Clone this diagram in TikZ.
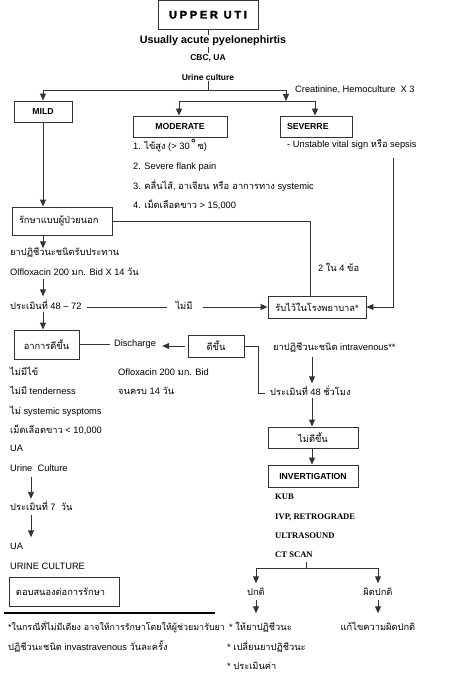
\documentclass[tikz,border=0pt]{standalone}
\usepackage{fontspec}
\setmainfont{Liberation Sans}
\newfontfamily\thf[Script=Thai]{Loma}
\newfontfamily\serifb{Liberation Serif}
\newcommand\tha[1]{{\thf #1}}
\usetikzlibrary{arrows.meta,calc}
\definecolor{lc}{HTML}{333333}
\begin{document}
\begin{tikzpicture}[x=1pt,y=-1pt,
 box/.style={draw=lc,line width=0.9pt,inner sep=0pt,font=\fontsize{9.3}{11}\selectfont},
 hd/.style={font=\fontsize{8.7}{10}\bfseries\selectfont},
 lbl/.style={anchor=west,inner sep=0pt,text height=7pt,text depth=2pt,font=\fontsize{9.3}{11}\selectfont},
 ctr/.style={inner sep=0pt,text height=7pt,text depth=2pt,font=\fontsize{9.3}{11}\selectfont},
 ser/.style={lbl,font=\fontsize{8.6}{10}\serifb\bfseries\selectfont},
 ln/.style={draw=lc,line width=0.9pt},
 arr/.style={ln,-{Triangle[length=7pt,width=6pt]}},
]
\useasboundingbox (0,0) rectangle (474,682);

% top
\node[box,minimum width=100pt,minimum height=28.5pt] (upper) at (208,14.75)
  {\fontsize{11}{13}\bfseries\addfontfeature{LetterSpace=25,FakeBold=2.5}UPPER UTI};
\node[inner sep=1pt,font=\fontsize{10.8}{12}\bfseries\selectfont] (usu) at (213,41) {Usually acute pyelonephirtis};
\node[inner sep=1pt,font=\fontsize{8.5}{10}\bfseries\selectfont] (cbc) at (208,58) {CBC, UA};
\node[inner sep=1pt,font=\fontsize{8.5}{10}\bfseries\selectfont] (uc) at (208,77) {Urine culture};
\draw[ln] (upper.south) -- (upper.south |- usu.north);
\draw[ln] (usu.south -| upper.south) -- (cbc.north);
\coordinate (j1) at (208,90);
\coordinate (jL) at (43,90);
\coordinate (jR) at (286,90);
\coordinate (j2) at (286,101);
\coordinate (j2L) at (179,101);
\coordinate (j2R) at (315,101);
\draw[ln] (uc.south) -- (j1);
\draw[ln] (jL) -- (jR);
\draw[ln] (j2L) -- (j2R);
\node[lbl] (crea) at (295,90) {Creatinine, Hemoculture\ \ X 3};

\node[box,hd,minimum width=58pt,minimum height=21pt] (mild) at (43,111.5) {MILD};
\node[box,hd,minimum width=94pt,minimum height=21pt] (mod) at (180,126.5) {MODERATE};
\node[box,hd,minimum height=21pt,text width=58pt,inner xsep=7pt,align=left] (sev) at (316,126.5) {SEVERRE};
\draw[arr] (jL) -- (mild.north);
\draw[arr] (jR) -- (j2);
\draw[arr] (j2L) -- (j2L |- mod.north);
\draw[arr] (j2R) -- (j2R |- sev.north);

\node[lbl] (sevt) at (287,145) {- Unstable vital sign \tha{หรือ} sepsis};
\node[lbl] (m1) at (133,147) {1. \tha{ไข้สูง} (> 30\,\raisebox{2pt}{\bfseries\large°}\,\tha{ซ})};
\node[lbl] (m2) at (133,167) {2. Severe flank pain};
\node[lbl] (m3) at (133,187) {3. \tha{คลื่นไส้}, \tha{อาเจียน หรือ อาการทาง} systemic};
\node[lbl] (m4) at (133,206) {4. \tha{เม็ดเลือดขาว} > 15,000};

% outpatient treatment
\node[box,minimum height=28pt,text width=86pt,inner xsep=7pt,align=left] (treat) at (62,221) {\tha{รักษาแบบผู้ป่วยนอก}};
\draw[arr] (mild.south) -- (mild.south |- treat.north);

\node[box,minimum width=98pt,minimum height=22pt] (hosp) at (317,307) {\tha{รับไว้ในโรงพยาบาล}*};
\coordinate (c310) at (310,0);
\draw[ln] (treat.east) -| (hosp.north -| c310);
\node[lbl] (two) at (318,269) {2 \tha{ใน} 4 \tha{ข้อ}};
\coordinate (svtop) at (393,158);
\draw[arr] (svtop) |- (hosp.east);

\node[lbl] (anti1) at (10,253) {\tha{ยาปฏิชีวนะชนิดรับประทาน}};
\node[lbl] (oflo) at (10,273) {Olfloxacin 200 \tha{มก.} Bid X 14 \tha{วัน}};
\node[lbl] (eval1) at (10,307) {\tha{ประเมินที่} 48 – 72};
\draw[arr] (treat.south -| mild) -- (anti1.north -| mild);
\draw[arr,shorten <=1pt,shorten >=6pt] (oflo.south -| mild) -- (eval1.north -| mild);
\node[ctr] (nomi) at (184,307) {\tha{ไม่มี}};
\draw[ln,shorten <=5pt,shorten >=8pt] (eval1.east) -- (nomi.west);
\draw[arr,shorten <=10pt] (nomi.east) -- (hosp.west);

% improved
\node[box,minimum width=65pt,minimum height=29pt] (better) at (46.5,344.5) {\tha{อาการดีขึ้น}};
\draw[arr] (eval1.south -| mild) -- (better.north -| mild);
\node[ctr] (dis) at (135,344) {Discharge};
\draw[ln,shorten >=4pt] (better.east) -- (better.east -| dis.west);
\node[box,minimum width=56pt,minimum height=22pt] (dk) at (216,346) {\tha{ดีขึ้น}};
\draw[arr,shorten <=3pt,shorten >=6pt] (dk.west) -- (dk.west -| dis.east);

\node[lbl] (iv) at (273,348) {\tha{ยาปฏิชีวนะชนิด} intravenous**};
\node[lbl] (e48) at (270,393) {\tha{ประเมินที่} 48 \tha{ชั่วโมง}};
\coordinate (k1) at (258,393);
\draw[ln,shorten >=5pt] (dk.east) -| (k1) -- (e48.west);
\coordinate (c312) at (312,0);
\draw[arr,shorten <=4pt,shorten >=5pt] (iv.south -| c312) -- (e48.north -| c312);
\node[box,minimum width=90pt,minimum height=21pt] (nb) at (313,437.5) {\tha{ไม่ดีขึ้น}};
\draw[arr] (e48.south -| c312) -- (nb.north -| c312);
\node[box,hd,minimum width=90pt,minimum height=22pt] (inv) at (313,476) {INVERTIGATION};
\draw[arr] (nb.south -| c312) -- (inv.north -| c312);

\node[ser] (kub) at (275,497) {KUB};
\node[ser] (ivp) at (275,517) {IVP, RETROGRADE};
\node[ser] (us) at (275,536) {ULTRASOUND};
\node[ser] (ct) at (275,555) {CT SCAN};
\coordinate (c306) at (306,0);
\coordinate (jn) at (306,568);
\coordinate (jnL) at (256,568);
\coordinate (jnR) at (378,568);
\draw[ln,shorten <=2pt] (ct.south -| c306) -- (jn);
\draw[ln] (jnL) -- (jnR);
\node[ctr] (norm) at (256,593) {\tha{ปกติ}};
\node[ctr] (abn) at (378,593) {\tha{ผิดปกติ}};
\draw[arr,shorten >=5pt] (jnL) -- (norm.north);
\draw[arr,shorten >=5pt] (jnR) -- (abn.north);
\node[lbl] (g1) at (229,628) {* \tha{ให้ยาปฏิชีวนะ}};
\node[lbl] (g2) at (227,648) {* \tha{เปลี่ยนยาปฏิชีวนะ}};
\node[lbl] (g3) at (227,667) {* \tha{ประเมินค่า}};
\node[ctr] (fix) at (378,628) {\tha{แก้ไขความผิดปกติ}};
\draw[arr,shorten <=2.5pt,shorten >=10pt] (norm.south) -- (g1.north -| norm.south);
\draw[arr,shorten <=2.5pt,shorten >=10pt] (abn.south) -- (fix.north);

% left list
\node[lbl] (l1) at (10,373) {\tha{ไม่มีไข้}};
\node[lbl] (l2) at (10,392) {\tha{ไม่มี} tenderness};
\node[lbl] (l3) at (10,412) {\tha{ไม่} systemic sysptoms};
\node[lbl] (l4) at (10,431) {\tha{เม็ดเลือดขาว} < 10,000};
\node[lbl] (l5) at (10,449) {UA};
\node[lbl] (l6) at (10,469) {Urine\ \ Culture};
\node[lbl] (o1) at (118,373) {Ofloxacin 200 \tha{มก.} Bid};
\node[lbl] (o2) at (118,392) {\tha{จนครบ} 14 \tha{วัน}};
\coordinate (c31) at (31,0);
\node[lbl] (e7) at (10,508) {\tha{ประเมินที่} 7\ \ \tha{วัน}};
\node[lbl] (ua2) at (10,547) {UA};
\node[lbl] (uc2) at (10,567) {URINE CULTURE};
\draw[arr,shorten <=3pt,shorten >=4.5pt] (l6.south -| c31) -- (e7.north -| c31);
\draw[arr,shorten <=2.5pt,shorten >=5pt] (e7.south -| c31) -- (ua2.north -| c31);
\node[box,minimum height=29pt,text width=96pt,inner xsep=7pt,align=left] (resp) at (64,591.5) {\tha{ตอบสนองต่อการรักษา}};

\coordinate (r1) at (4,613);
\coordinate (r2) at (215,613);
\draw[line width=2pt] (r1) -- (r2);
\node[lbl,font=\fontsize{8.9}{11}\selectfont] (f1) at (8,628) {*\tha{ในกรณีที่ไม่มีเตียง อาจให้การรักษาโดยให้ผู้ช่วยมารับยา}};
\node[lbl] (f2) at (8,648) {\tha{ปฏิชีวนะชนิด} invastravenous \tha{วันละครั้ง}};
\end{tikzpicture}
\end{document}
